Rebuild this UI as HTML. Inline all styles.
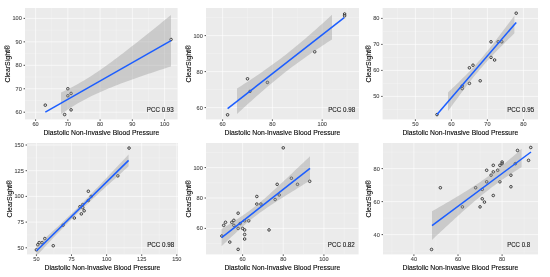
<!DOCTYPE html>
<html><head><meta charset="utf-8"><title>Figure</title>
<style>
html,body{margin:0;padding:0;background:#fff;}
body{width:550px;height:277px;overflow:hidden;}
svg{display:block;font-family:"Liberation Sans",sans-serif;}
</style></head><body>
<svg width="550" height="277" viewBox="0 0 550 277">
<rect width="550" height="277" fill="#ffffff"/>
<g>
<clipPath id="c0"><rect x="25" y="8" width="152.6" height="111.4"/></clipPath>
<rect x="25" y="8" width="152.6" height="111.4" fill="#ebebeb"/>
<line x1="51.73" y1="8" x2="51.73" y2="119.4" stroke="#fff" stroke-width="0.4" stroke-opacity="0.55"/>
<line x1="83.97" y1="8" x2="83.97" y2="119.4" stroke="#fff" stroke-width="0.4" stroke-opacity="0.55"/>
<line x1="116.22" y1="8" x2="116.22" y2="119.4" stroke="#fff" stroke-width="0.4" stroke-opacity="0.55"/>
<line x1="148.47" y1="8" x2="148.47" y2="119.4" stroke="#fff" stroke-width="0.4" stroke-opacity="0.55"/>
<line x1="25" y1="100.47" x2="177.6" y2="100.47" stroke="#fff" stroke-width="0.4" stroke-opacity="0.55"/>
<line x1="25" y1="77.03" x2="177.6" y2="77.03" stroke="#fff" stroke-width="0.4" stroke-opacity="0.55"/>
<line x1="25" y1="53.58" x2="177.6" y2="53.58" stroke="#fff" stroke-width="0.4" stroke-opacity="0.55"/>
<line x1="25" y1="30.12" x2="177.6" y2="30.12" stroke="#fff" stroke-width="0.4" stroke-opacity="0.55"/>
<line x1="35.6" y1="8" x2="35.6" y2="119.4" stroke="#fff" stroke-width="0.75" stroke-opacity="0.8"/>
<line x1="67.85" y1="8" x2="67.85" y2="119.4" stroke="#fff" stroke-width="0.75" stroke-opacity="0.8"/>
<line x1="100.1" y1="8" x2="100.1" y2="119.4" stroke="#fff" stroke-width="0.75" stroke-opacity="0.8"/>
<line x1="132.35" y1="8" x2="132.35" y2="119.4" stroke="#fff" stroke-width="0.75" stroke-opacity="0.8"/>
<line x1="164.6" y1="8" x2="164.6" y2="119.4" stroke="#fff" stroke-width="0.75" stroke-opacity="0.8"/>
<line x1="25" y1="112.2" x2="177.6" y2="112.2" stroke="#fff" stroke-width="0.75" stroke-opacity="0.8"/>
<line x1="25" y1="88.75" x2="177.6" y2="88.75" stroke="#fff" stroke-width="0.75" stroke-opacity="0.8"/>
<line x1="25" y1="65.3" x2="177.6" y2="65.3" stroke="#fff" stroke-width="0.75" stroke-opacity="0.8"/>
<line x1="25" y1="41.85" x2="177.6" y2="41.85" stroke="#fff" stroke-width="0.75" stroke-opacity="0.8"/>
<line x1="25" y1="18.4" x2="177.6" y2="18.4" stroke="#fff" stroke-width="0.75" stroke-opacity="0.8"/>
<g clip-path="url(#c0)">
<circle cx="45.28" cy="105.16" r="1.3" fill="#d9d9d9" fill-opacity="0.5" stroke="#1f1f1f" stroke-width="0.8"/>
<circle cx="64.62" cy="114.55" r="1.3" fill="#d9d9d9" fill-opacity="0.5" stroke="#1f1f1f" stroke-width="0.8"/>
<circle cx="67.85" cy="88.75" r="1.3" fill="#d9d9d9" fill-opacity="0.5" stroke="#1f1f1f" stroke-width="0.8"/>
<circle cx="67.85" cy="95.78" r="1.3" fill="#d9d9d9" fill-opacity="0.5" stroke="#1f1f1f" stroke-width="0.8"/>
<circle cx="71.08" cy="93.44" r="1.3" fill="#d9d9d9" fill-opacity="0.5" stroke="#1f1f1f" stroke-width="0.8"/>
<circle cx="71.08" cy="109.86" r="1.3" fill="#d9d9d9" fill-opacity="0.5" stroke="#1f1f1f" stroke-width="0.8"/>
<circle cx="171.05" cy="39.5" r="1.3" fill="#d9d9d9" fill-opacity="0.5" stroke="#1f1f1f" stroke-width="0.8"/>
<path d="M61 92.52 L63.82 91.2 L66.64 89.85 L69.46 88.45 L72.28 87 L75.1 85.5 L77.92 83.95 L80.74 82.34 L83.56 80.69 L86.38 78.98 L89.21 77.22 L92.03 75.41 L94.85 73.56 L97.67 71.66 L100.49 69.73 L103.31 67.75 L106.13 65.74 L108.95 63.71 L111.77 61.64 L114.59 59.55 L117.41 57.44 L120.23 55.31 L123.05 53.15 L125.87 50.99 L128.69 48.8 L131.51 46.61 L134.33 44.4 L137.15 42.18 L139.97 39.95 L142.79 37.72 L145.62 35.47 L148.44 33.21 L151.26 30.95 L154.08 28.68 L156.9 26.41 L159.72 24.13 L162.54 21.84 L165.36 19.55 L168.18 17.26 L171 14.96 L171 66.44 L168.18 67.35 L165.36 68.26 L162.54 69.18 L159.72 70.11 L156.9 71.03 L154.08 71.97 L151.26 72.91 L148.44 73.86 L145.62 74.81 L142.79 75.77 L139.97 76.74 L137.15 77.72 L134.33 78.71 L131.51 79.71 L128.69 80.73 L125.87 81.75 L123.05 82.79 L120.23 83.85 L117.41 84.93 L114.59 86.02 L111.77 87.14 L108.95 88.28 L106.13 89.46 L103.31 90.66 L100.49 91.89 L97.67 93.16 L94.85 94.47 L92.03 95.83 L89.21 97.23 L86.38 98.68 L83.56 100.18 L80.74 101.73 L77.92 103.34 L75.1 105 L72.28 106.71 L69.46 108.47 L66.64 110.27 L63.82 112.13 L61 114.02Z" fill="#999999" fill-opacity="0.4"/>
<line x1="45.3" y1="112.2" x2="171" y2="40.7" stroke="#1c5eff" stroke-width="1.55"/>
</g>
<line x1="35.6" y1="119.4" x2="35.6" y2="120.9" stroke="#333" stroke-width="0.9"/>
<text x="35.6" y="126.3" font-size="5.6" fill="#4d4d4d" stroke="#4d4d4d" stroke-width="0.1" text-anchor="middle">60</text>
<line x1="67.85" y1="119.4" x2="67.85" y2="120.9" stroke="#333" stroke-width="0.9"/>
<text x="67.85" y="126.3" font-size="5.6" fill="#4d4d4d" stroke="#4d4d4d" stroke-width="0.1" text-anchor="middle">70</text>
<line x1="100.1" y1="119.4" x2="100.1" y2="120.9" stroke="#333" stroke-width="0.9"/>
<text x="100.1" y="126.3" font-size="5.6" fill="#4d4d4d" stroke="#4d4d4d" stroke-width="0.1" text-anchor="middle">80</text>
<line x1="132.35" y1="119.4" x2="132.35" y2="120.9" stroke="#333" stroke-width="0.9"/>
<text x="132.35" y="126.3" font-size="5.6" fill="#4d4d4d" stroke="#4d4d4d" stroke-width="0.1" text-anchor="middle">90</text>
<line x1="164.6" y1="119.4" x2="164.6" y2="120.9" stroke="#333" stroke-width="0.9"/>
<text x="164.6" y="126.3" font-size="5.6" fill="#4d4d4d" stroke="#4d4d4d" stroke-width="0.1" text-anchor="middle">100</text>
<line x1="23.6" y1="112.2" x2="25" y2="112.2" stroke="#333" stroke-width="0.9"/>
<text x="21.8" y="114.1" font-size="5.6" fill="#4d4d4d" stroke="#4d4d4d" stroke-width="0.1" text-anchor="end">60</text>
<line x1="23.6" y1="88.75" x2="25" y2="88.75" stroke="#333" stroke-width="0.9"/>
<text x="21.8" y="90.65" font-size="5.6" fill="#4d4d4d" stroke="#4d4d4d" stroke-width="0.1" text-anchor="end">70</text>
<line x1="23.6" y1="65.3" x2="25" y2="65.3" stroke="#333" stroke-width="0.9"/>
<text x="21.8" y="67.2" font-size="5.6" fill="#4d4d4d" stroke="#4d4d4d" stroke-width="0.1" text-anchor="end">80</text>
<line x1="23.6" y1="41.85" x2="25" y2="41.85" stroke="#333" stroke-width="0.9"/>
<text x="21.8" y="43.75" font-size="5.6" fill="#4d4d4d" stroke="#4d4d4d" stroke-width="0.1" text-anchor="end">90</text>
<line x1="23.6" y1="18.4" x2="25" y2="18.4" stroke="#333" stroke-width="0.9"/>
<text x="21.8" y="20.3" font-size="5.6" fill="#4d4d4d" stroke="#4d4d4d" stroke-width="0.1" text-anchor="end">100</text>
<text x="101.3" y="134.5" font-size="7.3" fill="#000" stroke="#000" stroke-width="0.1" text-anchor="middle" textLength="115.8" lengthAdjust="spacingAndGlyphs">Diastolic Non-Invasive Blood Pressure</text>
<text transform="translate(10 63.7) rotate(-90)" font-size="7.3" fill="#000" stroke="#000" stroke-width="0.1" text-anchor="middle" textLength="37.6" lengthAdjust="spacingAndGlyphs">ClearSight®</text>
<text x="146.8" y="111.8" font-size="7" fill="#1a1a1a" stroke="#1a1a1a" stroke-width="0.12" text-anchor="start" textLength="27" lengthAdjust="spacingAndGlyphs">PCC 0.93</text>
</g>
<g>
<clipPath id="c1"><rect x="206" y="8" width="153" height="111.4"/></clipPath>
<rect x="206" y="8" width="153" height="111.4" fill="#ebebeb"/>
<line x1="247.5" y1="8" x2="247.5" y2="119.4" stroke="#fff" stroke-width="0.4" stroke-opacity="0.55"/>
<line x1="297.3" y1="8" x2="297.3" y2="119.4" stroke="#fff" stroke-width="0.4" stroke-opacity="0.55"/>
<line x1="347.1" y1="8" x2="347.1" y2="119.4" stroke="#fff" stroke-width="0.4" stroke-opacity="0.55"/>
<line x1="206" y1="89.6" x2="359" y2="89.6" stroke="#fff" stroke-width="0.4" stroke-opacity="0.55"/>
<line x1="206" y1="53.6" x2="359" y2="53.6" stroke="#fff" stroke-width="0.4" stroke-opacity="0.55"/>
<line x1="206" y1="17.6" x2="359" y2="17.6" stroke="#fff" stroke-width="0.4" stroke-opacity="0.55"/>
<line x1="222.6" y1="8" x2="222.6" y2="119.4" stroke="#fff" stroke-width="0.75" stroke-opacity="0.8"/>
<line x1="272.4" y1="8" x2="272.4" y2="119.4" stroke="#fff" stroke-width="0.75" stroke-opacity="0.8"/>
<line x1="322.2" y1="8" x2="322.2" y2="119.4" stroke="#fff" stroke-width="0.75" stroke-opacity="0.8"/>
<line x1="206" y1="107.6" x2="359" y2="107.6" stroke="#fff" stroke-width="0.75" stroke-opacity="0.8"/>
<line x1="206" y1="71.6" x2="359" y2="71.6" stroke="#fff" stroke-width="0.75" stroke-opacity="0.8"/>
<line x1="206" y1="35.6" x2="359" y2="35.6" stroke="#fff" stroke-width="0.75" stroke-opacity="0.8"/>
<g clip-path="url(#c1)">
<circle cx="227.58" cy="114.8" r="1.3" fill="#d9d9d9" fill-opacity="0.5" stroke="#1f1f1f" stroke-width="0.8"/>
<circle cx="247.5" cy="78.8" r="1.3" fill="#d9d9d9" fill-opacity="0.5" stroke="#1f1f1f" stroke-width="0.8"/>
<circle cx="249.99" cy="91.4" r="1.3" fill="#d9d9d9" fill-opacity="0.5" stroke="#1f1f1f" stroke-width="0.8"/>
<circle cx="267.42" cy="82.4" r="1.3" fill="#d9d9d9" fill-opacity="0.5" stroke="#1f1f1f" stroke-width="0.8"/>
<circle cx="314.73" cy="51.8" r="1.3" fill="#d9d9d9" fill-opacity="0.5" stroke="#1f1f1f" stroke-width="0.8"/>
<circle cx="344.61" cy="14" r="1.3" fill="#d9d9d9" fill-opacity="0.5" stroke="#1f1f1f" stroke-width="0.8"/>
<circle cx="344.61" cy="15.8" r="1.3" fill="#d9d9d9" fill-opacity="0.5" stroke="#1f1f1f" stroke-width="0.8"/>
<path d="M237 88.52 L239.44 86.97 L241.87 85.4 L244.31 83.83 L246.74 82.24 L249.18 80.65 L251.62 79.04 L254.05 77.42 L256.49 75.78 L258.92 74.13 L261.36 72.46 L263.79 70.77 L266.23 69.07 L268.67 67.34 L271.1 65.6 L273.54 63.83 L275.97 62.04 L278.41 60.22 L280.85 58.38 L283.28 56.52 L285.72 54.63 L288.15 52.71 L290.59 50.77 L293.03 48.81 L295.46 46.82 L297.9 44.81 L300.33 42.78 L302.77 40.72 L305.21 38.65 L307.64 36.56 L310.08 34.45 L312.51 32.32 L314.95 30.17 L317.38 28.02 L319.82 25.85 L322.26 23.66 L324.69 21.47 L327.13 19.27 L329.56 17.05 L332 14.83 L332 39.41 L329.56 40.99 L327.13 42.58 L324.69 44.18 L322.26 45.79 L319.82 47.41 L317.38 49.04 L314.95 50.68 L312.51 52.34 L310.08 54.02 L307.64 55.71 L305.21 57.42 L302.77 59.14 L300.33 60.89 L297.9 62.66 L295.46 64.45 L293.03 66.27 L290.59 68.11 L288.15 69.97 L285.72 71.86 L283.28 73.77 L280.85 75.71 L278.41 77.67 L275.97 79.66 L273.54 81.67 L271.1 83.7 L268.67 85.76 L266.23 87.83 L263.79 89.93 L261.36 92.05 L258.92 94.18 L256.49 96.33 L254.05 98.5 L251.62 100.68 L249.18 102.87 L246.74 105.07 L244.31 107.29 L241.87 109.52 L239.44 111.76 L237 114Z" fill="#999999" fill-opacity="0.4"/>
<line x1="227.6" y1="108.6" x2="344.2" y2="17.6" stroke="#1c5eff" stroke-width="1.55"/>
</g>
<line x1="222.6" y1="119.4" x2="222.6" y2="120.9" stroke="#333" stroke-width="0.9"/>
<text x="222.6" y="126.3" font-size="5.6" fill="#4d4d4d" stroke="#4d4d4d" stroke-width="0.1" text-anchor="middle">60</text>
<line x1="272.4" y1="119.4" x2="272.4" y2="120.9" stroke="#333" stroke-width="0.9"/>
<text x="272.4" y="126.3" font-size="5.6" fill="#4d4d4d" stroke="#4d4d4d" stroke-width="0.1" text-anchor="middle">80</text>
<line x1="322.2" y1="119.4" x2="322.2" y2="120.9" stroke="#333" stroke-width="0.9"/>
<text x="322.2" y="126.3" font-size="5.6" fill="#4d4d4d" stroke="#4d4d4d" stroke-width="0.1" text-anchor="middle">100</text>
<line x1="204.6" y1="107.6" x2="206" y2="107.6" stroke="#333" stroke-width="0.9"/>
<text x="202.8" y="109.5" font-size="5.6" fill="#4d4d4d" stroke="#4d4d4d" stroke-width="0.1" text-anchor="end">60</text>
<line x1="204.6" y1="71.6" x2="206" y2="71.6" stroke="#333" stroke-width="0.9"/>
<text x="202.8" y="73.5" font-size="5.6" fill="#4d4d4d" stroke="#4d4d4d" stroke-width="0.1" text-anchor="end">80</text>
<line x1="204.6" y1="35.6" x2="206" y2="35.6" stroke="#333" stroke-width="0.9"/>
<text x="202.8" y="37.5" font-size="5.6" fill="#4d4d4d" stroke="#4d4d4d" stroke-width="0.1" text-anchor="end">100</text>
<text x="282.5" y="134.5" font-size="7.3" fill="#000" stroke="#000" stroke-width="0.1" text-anchor="middle" textLength="115.8" lengthAdjust="spacingAndGlyphs">Diastolic Non-Invasive Blood Pressure</text>
<text transform="translate(191 63.7) rotate(-90)" font-size="7.3" fill="#000" stroke="#000" stroke-width="0.1" text-anchor="middle" textLength="37.6" lengthAdjust="spacingAndGlyphs">ClearSight®</text>
<text x="328.2" y="111.8" font-size="7" fill="#1a1a1a" stroke="#1a1a1a" stroke-width="0.12" text-anchor="start" textLength="27" lengthAdjust="spacingAndGlyphs">PCC 0.98</text>
</g>
<g>
<clipPath id="c2"><rect x="382.6" y="8" width="155.4" height="111.4"/></clipPath>
<rect x="382.6" y="8" width="155.4" height="111.4" fill="#ebebeb"/>
<line x1="397.4" y1="8" x2="397.4" y2="119.4" stroke="#fff" stroke-width="0.4" stroke-opacity="0.55"/>
<line x1="433.4" y1="8" x2="433.4" y2="119.4" stroke="#fff" stroke-width="0.4" stroke-opacity="0.55"/>
<line x1="469.4" y1="8" x2="469.4" y2="119.4" stroke="#fff" stroke-width="0.4" stroke-opacity="0.55"/>
<line x1="505.4" y1="8" x2="505.4" y2="119.4" stroke="#fff" stroke-width="0.4" stroke-opacity="0.55"/>
<line x1="382.6" y1="109.4" x2="538" y2="109.4" stroke="#fff" stroke-width="0.4" stroke-opacity="0.55"/>
<line x1="382.6" y1="83.4" x2="538" y2="83.4" stroke="#fff" stroke-width="0.4" stroke-opacity="0.55"/>
<line x1="382.6" y1="57.4" x2="538" y2="57.4" stroke="#fff" stroke-width="0.4" stroke-opacity="0.55"/>
<line x1="382.6" y1="31.4" x2="538" y2="31.4" stroke="#fff" stroke-width="0.4" stroke-opacity="0.55"/>
<line x1="415.4" y1="8" x2="415.4" y2="119.4" stroke="#fff" stroke-width="0.75" stroke-opacity="0.8"/>
<line x1="451.4" y1="8" x2="451.4" y2="119.4" stroke="#fff" stroke-width="0.75" stroke-opacity="0.8"/>
<line x1="487.4" y1="8" x2="487.4" y2="119.4" stroke="#fff" stroke-width="0.75" stroke-opacity="0.8"/>
<line x1="523.4" y1="8" x2="523.4" y2="119.4" stroke="#fff" stroke-width="0.75" stroke-opacity="0.8"/>
<line x1="382.6" y1="96.4" x2="538" y2="96.4" stroke="#fff" stroke-width="0.75" stroke-opacity="0.8"/>
<line x1="382.6" y1="70.4" x2="538" y2="70.4" stroke="#fff" stroke-width="0.75" stroke-opacity="0.8"/>
<line x1="382.6" y1="44.4" x2="538" y2="44.4" stroke="#fff" stroke-width="0.75" stroke-opacity="0.8"/>
<line x1="382.6" y1="18.4" x2="538" y2="18.4" stroke="#fff" stroke-width="0.75" stroke-opacity="0.8"/>
<g clip-path="url(#c2)">
<circle cx="437" cy="114.6" r="1.3" fill="#d9d9d9" fill-opacity="0.5" stroke="#1f1f1f" stroke-width="0.8"/>
<circle cx="462.2" cy="86" r="1.3" fill="#d9d9d9" fill-opacity="0.5" stroke="#1f1f1f" stroke-width="0.8"/>
<circle cx="462.2" cy="88.6" r="1.3" fill="#d9d9d9" fill-opacity="0.5" stroke="#1f1f1f" stroke-width="0.8"/>
<circle cx="469.4" cy="83.4" r="1.3" fill="#d9d9d9" fill-opacity="0.5" stroke="#1f1f1f" stroke-width="0.8"/>
<circle cx="469.4" cy="67.8" r="1.3" fill="#d9d9d9" fill-opacity="0.5" stroke="#1f1f1f" stroke-width="0.8"/>
<circle cx="473" cy="65.2" r="1.3" fill="#d9d9d9" fill-opacity="0.5" stroke="#1f1f1f" stroke-width="0.8"/>
<circle cx="480.2" cy="80.8" r="1.3" fill="#d9d9d9" fill-opacity="0.5" stroke="#1f1f1f" stroke-width="0.8"/>
<circle cx="491" cy="57.4" r="1.3" fill="#d9d9d9" fill-opacity="0.5" stroke="#1f1f1f" stroke-width="0.8"/>
<circle cx="494.6" cy="60" r="1.3" fill="#d9d9d9" fill-opacity="0.5" stroke="#1f1f1f" stroke-width="0.8"/>
<circle cx="491" cy="41.8" r="1.3" fill="#d9d9d9" fill-opacity="0.5" stroke="#1f1f1f" stroke-width="0.8"/>
<circle cx="498.2" cy="41.8" r="1.3" fill="#d9d9d9" fill-opacity="0.5" stroke="#1f1f1f" stroke-width="0.8"/>
<circle cx="501.8" cy="41.8" r="1.3" fill="#d9d9d9" fill-opacity="0.5" stroke="#1f1f1f" stroke-width="0.8"/>
<circle cx="516.2" cy="13.2" r="1.3" fill="#d9d9d9" fill-opacity="0.5" stroke="#1f1f1f" stroke-width="0.8"/>
<path d="M448 92.47 L449.7 90.85 L451.41 89.23 L453.11 87.6 L454.81 85.97 L456.51 84.32 L458.22 82.66 L459.92 81 L461.62 79.31 L463.32 77.62 L465.03 75.9 L466.73 74.17 L468.43 72.42 L470.13 70.65 L471.84 68.85 L473.54 67.02 L475.24 65.17 L476.94 63.28 L478.65 61.36 L480.35 59.41 L482.05 57.42 L483.75 55.4 L485.46 53.35 L487.16 51.28 L488.86 49.17 L490.56 47.03 L492.27 44.88 L493.97 42.7 L495.67 40.51 L497.37 38.3 L499.08 36.08 L500.78 33.84 L502.48 31.6 L504.18 29.34 L505.89 27.08 L507.59 24.81 L509.29 22.54 L510.99 20.26 L512.7 17.98 L514.4 15.69 L514.4 33.3 L512.7 34.98 L510.99 36.66 L509.29 38.34 L507.59 40.04 L505.89 41.73 L504.18 43.43 L502.48 45.14 L500.78 46.86 L499.08 48.59 L497.37 50.33 L495.67 52.09 L493.97 53.86 L492.27 55.64 L490.56 57.45 L488.86 59.28 L487.16 61.14 L485.46 63.02 L483.75 64.94 L482.05 66.88 L480.35 68.86 L478.65 70.88 L476.94 72.92 L475.24 75 L473.54 77.11 L471.84 79.25 L470.13 81.41 L468.43 83.6 L466.73 85.81 L465.03 88.05 L463.32 90.3 L461.62 92.56 L459.92 94.85 L458.22 97.14 L456.51 99.45 L454.81 101.76 L453.11 104.09 L451.41 106.43 L449.7 108.77 L448 111.12Z" fill="#999999" fill-opacity="0.4"/>
<line x1="437" y1="114.6" x2="516.2" y2="22.4" stroke="#1c5eff" stroke-width="1.55"/>
</g>
<line x1="415.4" y1="119.4" x2="415.4" y2="120.9" stroke="#333" stroke-width="0.9"/>
<text x="415.4" y="126.3" font-size="5.6" fill="#4d4d4d" stroke="#4d4d4d" stroke-width="0.1" text-anchor="middle">50</text>
<line x1="451.4" y1="119.4" x2="451.4" y2="120.9" stroke="#333" stroke-width="0.9"/>
<text x="451.4" y="126.3" font-size="5.6" fill="#4d4d4d" stroke="#4d4d4d" stroke-width="0.1" text-anchor="middle">60</text>
<line x1="487.4" y1="119.4" x2="487.4" y2="120.9" stroke="#333" stroke-width="0.9"/>
<text x="487.4" y="126.3" font-size="5.6" fill="#4d4d4d" stroke="#4d4d4d" stroke-width="0.1" text-anchor="middle">70</text>
<line x1="523.4" y1="119.4" x2="523.4" y2="120.9" stroke="#333" stroke-width="0.9"/>
<text x="523.4" y="126.3" font-size="5.6" fill="#4d4d4d" stroke="#4d4d4d" stroke-width="0.1" text-anchor="middle">80</text>
<line x1="381.2" y1="96.4" x2="382.6" y2="96.4" stroke="#333" stroke-width="0.9"/>
<text x="379.4" y="98.3" font-size="5.6" fill="#4d4d4d" stroke="#4d4d4d" stroke-width="0.1" text-anchor="end">50</text>
<line x1="381.2" y1="70.4" x2="382.6" y2="70.4" stroke="#333" stroke-width="0.9"/>
<text x="379.4" y="72.3" font-size="5.6" fill="#4d4d4d" stroke="#4d4d4d" stroke-width="0.1" text-anchor="end">60</text>
<line x1="381.2" y1="44.4" x2="382.6" y2="44.4" stroke="#333" stroke-width="0.9"/>
<text x="379.4" y="46.3" font-size="5.6" fill="#4d4d4d" stroke="#4d4d4d" stroke-width="0.1" text-anchor="end">70</text>
<line x1="381.2" y1="18.4" x2="382.6" y2="18.4" stroke="#333" stroke-width="0.9"/>
<text x="379.4" y="20.3" font-size="5.6" fill="#4d4d4d" stroke="#4d4d4d" stroke-width="0.1" text-anchor="end">80</text>
<text x="460.3" y="134.5" font-size="7.3" fill="#000" stroke="#000" stroke-width="0.1" text-anchor="middle" textLength="115.8" lengthAdjust="spacingAndGlyphs">Diastolic Non-Invasive Blood Pressure</text>
<text transform="translate(370.7 63.7) rotate(-90)" font-size="7.3" fill="#000" stroke="#000" stroke-width="0.1" text-anchor="middle" textLength="37.6" lengthAdjust="spacingAndGlyphs">ClearSight®</text>
<text x="507.2" y="111.8" font-size="7" fill="#1a1a1a" stroke="#1a1a1a" stroke-width="0.12" text-anchor="start" textLength="27" lengthAdjust="spacingAndGlyphs">PCC 0.95</text>
</g>
<g>
<clipPath id="c3"><rect x="27" y="143" width="151" height="111.4"/></clipPath>
<rect x="27" y="143" width="151" height="111.4" fill="#ebebeb"/>
<line x1="53.95" y1="143" x2="53.95" y2="254.4" stroke="#fff" stroke-width="0.4" stroke-opacity="0.55"/>
<line x1="89.05" y1="143" x2="89.05" y2="254.4" stroke="#fff" stroke-width="0.4" stroke-opacity="0.55"/>
<line x1="124.15" y1="143" x2="124.15" y2="254.4" stroke="#fff" stroke-width="0.4" stroke-opacity="0.55"/>
<line x1="159.25" y1="143" x2="159.25" y2="254.4" stroke="#fff" stroke-width="0.4" stroke-opacity="0.55"/>
<line x1="27" y1="234.95" x2="178" y2="234.95" stroke="#fff" stroke-width="0.4" stroke-opacity="0.55"/>
<line x1="27" y1="209.25" x2="178" y2="209.25" stroke="#fff" stroke-width="0.4" stroke-opacity="0.55"/>
<line x1="27" y1="183.55" x2="178" y2="183.55" stroke="#fff" stroke-width="0.4" stroke-opacity="0.55"/>
<line x1="27" y1="157.85" x2="178" y2="157.85" stroke="#fff" stroke-width="0.4" stroke-opacity="0.55"/>
<line x1="36.4" y1="143" x2="36.4" y2="254.4" stroke="#fff" stroke-width="0.75" stroke-opacity="0.8"/>
<line x1="71.5" y1="143" x2="71.5" y2="254.4" stroke="#fff" stroke-width="0.75" stroke-opacity="0.8"/>
<line x1="106.6" y1="143" x2="106.6" y2="254.4" stroke="#fff" stroke-width="0.75" stroke-opacity="0.8"/>
<line x1="141.7" y1="143" x2="141.7" y2="254.4" stroke="#fff" stroke-width="0.75" stroke-opacity="0.8"/>
<line x1="176.8" y1="143" x2="176.8" y2="254.4" stroke="#fff" stroke-width="0.75" stroke-opacity="0.8"/>
<line x1="27" y1="247.8" x2="178" y2="247.8" stroke="#fff" stroke-width="0.75" stroke-opacity="0.8"/>
<line x1="27" y1="222.1" x2="178" y2="222.1" stroke="#fff" stroke-width="0.75" stroke-opacity="0.8"/>
<line x1="27" y1="196.4" x2="178" y2="196.4" stroke="#fff" stroke-width="0.75" stroke-opacity="0.8"/>
<line x1="27" y1="170.7" x2="178" y2="170.7" stroke="#fff" stroke-width="0.75" stroke-opacity="0.8"/>
<line x1="27" y1="145" x2="178" y2="145" stroke="#fff" stroke-width="0.75" stroke-opacity="0.8"/>
<g clip-path="url(#c3)">
<circle cx="36.4" cy="249.86" r="1.3" fill="#d9d9d9" fill-opacity="0.5" stroke="#1f1f1f" stroke-width="0.8"/>
<circle cx="37.8" cy="244.72" r="1.3" fill="#d9d9d9" fill-opacity="0.5" stroke="#1f1f1f" stroke-width="0.8"/>
<circle cx="39.21" cy="242.66" r="1.3" fill="#d9d9d9" fill-opacity="0.5" stroke="#1f1f1f" stroke-width="0.8"/>
<circle cx="42.02" cy="242.66" r="1.3" fill="#d9d9d9" fill-opacity="0.5" stroke="#1f1f1f" stroke-width="0.8"/>
<circle cx="44.82" cy="238.55" r="1.3" fill="#d9d9d9" fill-opacity="0.5" stroke="#1f1f1f" stroke-width="0.8"/>
<circle cx="53.25" cy="245.74" r="1.3" fill="#d9d9d9" fill-opacity="0.5" stroke="#1f1f1f" stroke-width="0.8"/>
<circle cx="63.08" cy="225.18" r="1.3" fill="#d9d9d9" fill-opacity="0.5" stroke="#1f1f1f" stroke-width="0.8"/>
<circle cx="74.31" cy="217.99" r="1.3" fill="#d9d9d9" fill-opacity="0.5" stroke="#1f1f1f" stroke-width="0.8"/>
<circle cx="79.92" cy="206.68" r="1.3" fill="#d9d9d9" fill-opacity="0.5" stroke="#1f1f1f" stroke-width="0.8"/>
<circle cx="82.73" cy="204.62" r="1.3" fill="#d9d9d9" fill-opacity="0.5" stroke="#1f1f1f" stroke-width="0.8"/>
<circle cx="82.73" cy="207.71" r="1.3" fill="#d9d9d9" fill-opacity="0.5" stroke="#1f1f1f" stroke-width="0.8"/>
<circle cx="84.14" cy="210.79" r="1.3" fill="#d9d9d9" fill-opacity="0.5" stroke="#1f1f1f" stroke-width="0.8"/>
<circle cx="81.33" cy="213.88" r="1.3" fill="#d9d9d9" fill-opacity="0.5" stroke="#1f1f1f" stroke-width="0.8"/>
<circle cx="88.35" cy="200.51" r="1.3" fill="#d9d9d9" fill-opacity="0.5" stroke="#1f1f1f" stroke-width="0.8"/>
<circle cx="91.16" cy="196.4" r="1.3" fill="#d9d9d9" fill-opacity="0.5" stroke="#1f1f1f" stroke-width="0.8"/>
<circle cx="88.35" cy="191.26" r="1.3" fill="#d9d9d9" fill-opacity="0.5" stroke="#1f1f1f" stroke-width="0.8"/>
<circle cx="117.83" cy="175.84" r="1.3" fill="#d9d9d9" fill-opacity="0.5" stroke="#1f1f1f" stroke-width="0.8"/>
<circle cx="129.06" cy="148.08" r="1.3" fill="#d9d9d9" fill-opacity="0.5" stroke="#1f1f1f" stroke-width="0.8"/>
<path d="M36.4 245.76 L38.76 243.68 L41.13 241.59 L43.49 239.49 L45.86 237.38 L48.22 235.26 L50.58 233.13 L52.95 230.99 L55.31 228.84 L57.68 226.67 L60.04 224.49 L62.41 222.29 L64.77 220.07 L67.13 217.83 L69.5 215.56 L71.86 213.28 L74.23 210.97 L76.59 208.64 L78.95 206.29 L81.32 203.91 L83.68 201.52 L86.05 199.11 L88.41 196.69 L90.77 194.25 L93.14 191.8 L95.5 189.34 L97.87 186.88 L100.23 184.4 L102.59 181.92 L104.96 179.44 L107.32 176.95 L109.69 174.46 L112.05 171.96 L114.42 169.47 L116.78 166.97 L119.14 164.47 L121.51 161.97 L123.87 159.47 L126.24 156.97 L128.6 154.47 L128.6 166.33 L126.24 168.47 L123.87 170.61 L121.51 172.75 L119.14 174.89 L116.78 177.04 L114.42 179.18 L112.05 181.32 L109.69 183.47 L107.32 185.62 L104.96 187.77 L102.59 189.93 L100.23 192.09 L97.87 194.25 L95.5 196.43 L93.14 198.61 L90.77 200.8 L88.41 203 L86.05 205.22 L83.68 207.45 L81.32 209.7 L78.95 211.97 L76.59 214.26 L74.23 216.57 L71.86 218.9 L69.5 221.26 L67.13 223.64 L64.77 226.04 L62.41 228.46 L60.04 230.9 L57.68 233.35 L55.31 235.83 L52.95 238.31 L50.58 240.82 L48.22 243.33 L45.86 245.85 L43.49 248.38 L41.13 250.92 L38.76 253.47 L36.4 256.03Z" fill="#999999" fill-opacity="0.4"/>
<line x1="36.6" y1="250.7" x2="128.6" y2="160.4" stroke="#1c5eff" stroke-width="1.55"/>
</g>
<line x1="36.4" y1="254.4" x2="36.4" y2="255.9" stroke="#333" stroke-width="0.9"/>
<text x="36.4" y="261.3" font-size="5.6" fill="#4d4d4d" stroke="#4d4d4d" stroke-width="0.1" text-anchor="middle">50</text>
<line x1="71.5" y1="254.4" x2="71.5" y2="255.9" stroke="#333" stroke-width="0.9"/>
<text x="71.5" y="261.3" font-size="5.6" fill="#4d4d4d" stroke="#4d4d4d" stroke-width="0.1" text-anchor="middle">75</text>
<line x1="106.6" y1="254.4" x2="106.6" y2="255.9" stroke="#333" stroke-width="0.9"/>
<text x="106.6" y="261.3" font-size="5.6" fill="#4d4d4d" stroke="#4d4d4d" stroke-width="0.1" text-anchor="middle">100</text>
<line x1="141.7" y1="254.4" x2="141.7" y2="255.9" stroke="#333" stroke-width="0.9"/>
<text x="141.7" y="261.3" font-size="5.6" fill="#4d4d4d" stroke="#4d4d4d" stroke-width="0.1" text-anchor="middle">125</text>
<line x1="176.8" y1="254.4" x2="176.8" y2="255.9" stroke="#333" stroke-width="0.9"/>
<text x="176.8" y="261.3" font-size="5.6" fill="#4d4d4d" stroke="#4d4d4d" stroke-width="0.1" text-anchor="middle">150</text>
<line x1="25.6" y1="247.8" x2="27" y2="247.8" stroke="#333" stroke-width="0.9"/>
<text x="23.8" y="249.7" font-size="5.6" fill="#4d4d4d" stroke="#4d4d4d" stroke-width="0.1" text-anchor="end">50</text>
<line x1="25.6" y1="222.1" x2="27" y2="222.1" stroke="#333" stroke-width="0.9"/>
<text x="23.8" y="224" font-size="5.6" fill="#4d4d4d" stroke="#4d4d4d" stroke-width="0.1" text-anchor="end">75</text>
<line x1="25.6" y1="196.4" x2="27" y2="196.4" stroke="#333" stroke-width="0.9"/>
<text x="23.8" y="198.3" font-size="5.6" fill="#4d4d4d" stroke="#4d4d4d" stroke-width="0.1" text-anchor="end">100</text>
<line x1="25.6" y1="170.7" x2="27" y2="170.7" stroke="#333" stroke-width="0.9"/>
<text x="23.8" y="172.6" font-size="5.6" fill="#4d4d4d" stroke="#4d4d4d" stroke-width="0.1" text-anchor="end">125</text>
<line x1="25.6" y1="145" x2="27" y2="145" stroke="#333" stroke-width="0.9"/>
<text x="23.8" y="146.9" font-size="5.6" fill="#4d4d4d" stroke="#4d4d4d" stroke-width="0.1" text-anchor="end">150</text>
<text x="102.5" y="269.5" font-size="7.3" fill="#000" stroke="#000" stroke-width="0.1" text-anchor="middle" textLength="115.8" lengthAdjust="spacingAndGlyphs">Diastolic Non-Invasive Blood Pressure</text>
<text transform="translate(12 198.7) rotate(-90)" font-size="7.3" fill="#000" stroke="#000" stroke-width="0.1" text-anchor="middle" textLength="37.6" lengthAdjust="spacingAndGlyphs">ClearSight®</text>
<text x="147.2" y="246.8" font-size="7" fill="#1a1a1a" stroke="#1a1a1a" stroke-width="0.12" text-anchor="start" textLength="27" lengthAdjust="spacingAndGlyphs">PCC 0.98</text>
</g>
<g>
<clipPath id="c4"><rect x="206" y="143" width="152.6" height="111.4"/></clipPath>
<rect x="206" y="143" width="152.6" height="111.4" fill="#ebebeb"/>
<line x1="222.27" y1="143" x2="222.27" y2="254.4" stroke="#fff" stroke-width="0.4" stroke-opacity="0.55"/>
<line x1="262.93" y1="143" x2="262.93" y2="254.4" stroke="#fff" stroke-width="0.4" stroke-opacity="0.55"/>
<line x1="303.59" y1="143" x2="303.59" y2="254.4" stroke="#fff" stroke-width="0.4" stroke-opacity="0.55"/>
<line x1="344.25" y1="143" x2="344.25" y2="254.4" stroke="#fff" stroke-width="0.4" stroke-opacity="0.55"/>
<line x1="206" y1="243.6" x2="358.6" y2="243.6" stroke="#fff" stroke-width="0.4" stroke-opacity="0.55"/>
<line x1="206" y1="213.2" x2="358.6" y2="213.2" stroke="#fff" stroke-width="0.4" stroke-opacity="0.55"/>
<line x1="206" y1="182.8" x2="358.6" y2="182.8" stroke="#fff" stroke-width="0.4" stroke-opacity="0.55"/>
<line x1="206" y1="152.4" x2="358.6" y2="152.4" stroke="#fff" stroke-width="0.4" stroke-opacity="0.55"/>
<line x1="242.6" y1="143" x2="242.6" y2="254.4" stroke="#fff" stroke-width="0.75" stroke-opacity="0.8"/>
<line x1="283.26" y1="143" x2="283.26" y2="254.4" stroke="#fff" stroke-width="0.75" stroke-opacity="0.8"/>
<line x1="323.92" y1="143" x2="323.92" y2="254.4" stroke="#fff" stroke-width="0.75" stroke-opacity="0.8"/>
<line x1="206" y1="228.4" x2="358.6" y2="228.4" stroke="#fff" stroke-width="0.75" stroke-opacity="0.8"/>
<line x1="206" y1="198" x2="358.6" y2="198" stroke="#fff" stroke-width="0.75" stroke-opacity="0.8"/>
<line x1="206" y1="167.6" x2="358.6" y2="167.6" stroke="#fff" stroke-width="0.75" stroke-opacity="0.8"/>
<g clip-path="url(#c4)">
<circle cx="221.86" cy="236" r="1.3" fill="#d9d9d9" fill-opacity="0.5" stroke="#1f1f1f" stroke-width="0.8"/>
<circle cx="223.69" cy="225.36" r="1.3" fill="#d9d9d9" fill-opacity="0.5" stroke="#1f1f1f" stroke-width="0.8"/>
<circle cx="225.52" cy="222.32" r="1.3" fill="#d9d9d9" fill-opacity="0.5" stroke="#1f1f1f" stroke-width="0.8"/>
<circle cx="229.79" cy="242.08" r="1.3" fill="#d9d9d9" fill-opacity="0.5" stroke="#1f1f1f" stroke-width="0.8"/>
<circle cx="231.83" cy="222.32" r="1.3" fill="#d9d9d9" fill-opacity="0.5" stroke="#1f1f1f" stroke-width="0.8"/>
<circle cx="233.86" cy="220.34" r="1.3" fill="#d9d9d9" fill-opacity="0.5" stroke="#1f1f1f" stroke-width="0.8"/>
<circle cx="233.86" cy="225.36" r="1.3" fill="#d9d9d9" fill-opacity="0.5" stroke="#1f1f1f" stroke-width="0.8"/>
<circle cx="238.13" cy="213.2" r="1.3" fill="#d9d9d9" fill-opacity="0.5" stroke="#1f1f1f" stroke-width="0.8"/>
<circle cx="238.13" cy="228.4" r="1.3" fill="#d9d9d9" fill-opacity="0.5" stroke="#1f1f1f" stroke-width="0.8"/>
<circle cx="238.13" cy="249.38" r="1.3" fill="#d9d9d9" fill-opacity="0.5" stroke="#1f1f1f" stroke-width="0.8"/>
<circle cx="240.16" cy="223.54" r="1.3" fill="#d9d9d9" fill-opacity="0.5" stroke="#1f1f1f" stroke-width="0.8"/>
<circle cx="242.6" cy="228.4" r="1.3" fill="#d9d9d9" fill-opacity="0.5" stroke="#1f1f1f" stroke-width="0.8"/>
<circle cx="244.63" cy="220.8" r="1.3" fill="#d9d9d9" fill-opacity="0.5" stroke="#1f1f1f" stroke-width="0.8"/>
<circle cx="244.63" cy="229.92" r="1.3" fill="#d9d9d9" fill-opacity="0.5" stroke="#1f1f1f" stroke-width="0.8"/>
<circle cx="244.63" cy="234.48" r="1.3" fill="#d9d9d9" fill-opacity="0.5" stroke="#1f1f1f" stroke-width="0.8"/>
<circle cx="244.63" cy="239.04" r="1.3" fill="#d9d9d9" fill-opacity="0.5" stroke="#1f1f1f" stroke-width="0.8"/>
<circle cx="248.7" cy="220.8" r="1.3" fill="#d9d9d9" fill-opacity="0.5" stroke="#1f1f1f" stroke-width="0.8"/>
<circle cx="256.83" cy="204.08" r="1.3" fill="#d9d9d9" fill-opacity="0.5" stroke="#1f1f1f" stroke-width="0.8"/>
<circle cx="260.9" cy="204.08" r="1.3" fill="#d9d9d9" fill-opacity="0.5" stroke="#1f1f1f" stroke-width="0.8"/>
<circle cx="269.03" cy="229.92" r="1.3" fill="#d9d9d9" fill-opacity="0.5" stroke="#1f1f1f" stroke-width="0.8"/>
<circle cx="256.83" cy="196.48" r="1.3" fill="#d9d9d9" fill-opacity="0.5" stroke="#1f1f1f" stroke-width="0.8"/>
<circle cx="275.13" cy="199.52" r="1.3" fill="#d9d9d9" fill-opacity="0.5" stroke="#1f1f1f" stroke-width="0.8"/>
<circle cx="279.19" cy="194.96" r="1.3" fill="#d9d9d9" fill-opacity="0.5" stroke="#1f1f1f" stroke-width="0.8"/>
<circle cx="277.16" cy="184.32" r="1.3" fill="#d9d9d9" fill-opacity="0.5" stroke="#1f1f1f" stroke-width="0.8"/>
<circle cx="291.39" cy="178.24" r="1.3" fill="#d9d9d9" fill-opacity="0.5" stroke="#1f1f1f" stroke-width="0.8"/>
<circle cx="297.49" cy="184.32" r="1.3" fill="#d9d9d9" fill-opacity="0.5" stroke="#1f1f1f" stroke-width="0.8"/>
<circle cx="309.69" cy="181.28" r="1.3" fill="#d9d9d9" fill-opacity="0.5" stroke="#1f1f1f" stroke-width="0.8"/>
<circle cx="283.26" cy="147.84" r="1.3" fill="#d9d9d9" fill-opacity="0.5" stroke="#1f1f1f" stroke-width="0.8"/>
<path d="M221.6 228.88 L223.87 227.53 L226.13 226.17 L228.4 224.79 L230.67 223.39 L232.93 221.97 L235.2 220.53 L237.47 219.06 L239.73 217.57 L242 216.04 L244.27 214.47 L246.53 212.86 L248.8 211.21 L251.07 209.51 L253.33 207.77 L255.6 205.98 L257.87 204.14 L260.13 202.26 L262.4 200.34 L264.67 198.39 L266.93 196.4 L269.2 194.39 L271.47 192.35 L273.73 190.29 L276 188.21 L278.27 186.12 L280.53 184.02 L282.8 181.91 L285.07 179.79 L287.33 177.66 L289.6 175.53 L291.87 173.39 L294.13 171.25 L296.4 169.11 L298.67 166.97 L300.93 164.82 L303.2 162.67 L305.47 160.52 L307.73 158.38 L310 156.23 L310 180.57 L307.73 181.97 L305.47 183.37 L303.2 184.77 L300.93 186.18 L298.67 187.58 L296.4 188.98 L294.13 190.39 L291.87 191.8 L289.6 193.21 L287.33 194.62 L285.07 196.05 L282.8 197.48 L280.53 198.91 L278.27 200.36 L276 201.82 L273.73 203.29 L271.47 204.78 L269.2 206.29 L266.93 207.83 L264.67 209.39 L262.4 210.98 L260.13 212.61 L257.87 214.28 L255.6 215.99 L253.33 217.75 L251.07 219.55 L248.8 221.41 L246.53 223.3 L244.27 225.24 L242 227.23 L239.73 229.24 L237.47 231.29 L235.2 233.38 L232.93 235.48 L230.67 237.61 L228.4 239.76 L226.13 241.93 L223.87 244.12 L221.6 246.32Z" fill="#999999" fill-opacity="0.4"/>
<line x1="221.6" y1="237.6" x2="310" y2="168.4" stroke="#1c5eff" stroke-width="1.55"/>
</g>
<line x1="242.6" y1="254.4" x2="242.6" y2="255.9" stroke="#333" stroke-width="0.9"/>
<text x="242.6" y="261.3" font-size="5.6" fill="#4d4d4d" stroke="#4d4d4d" stroke-width="0.1" text-anchor="middle">60</text>
<line x1="283.26" y1="254.4" x2="283.26" y2="255.9" stroke="#333" stroke-width="0.9"/>
<text x="283.26" y="261.3" font-size="5.6" fill="#4d4d4d" stroke="#4d4d4d" stroke-width="0.1" text-anchor="middle">80</text>
<line x1="323.92" y1="254.4" x2="323.92" y2="255.9" stroke="#333" stroke-width="0.9"/>
<text x="323.92" y="261.3" font-size="5.6" fill="#4d4d4d" stroke="#4d4d4d" stroke-width="0.1" text-anchor="middle">100</text>
<line x1="204.6" y1="228.4" x2="206" y2="228.4" stroke="#333" stroke-width="0.9"/>
<text x="202.8" y="230.3" font-size="5.6" fill="#4d4d4d" stroke="#4d4d4d" stroke-width="0.1" text-anchor="end">60</text>
<line x1="204.6" y1="198" x2="206" y2="198" stroke="#333" stroke-width="0.9"/>
<text x="202.8" y="199.9" font-size="5.6" fill="#4d4d4d" stroke="#4d4d4d" stroke-width="0.1" text-anchor="end">80</text>
<line x1="204.6" y1="167.6" x2="206" y2="167.6" stroke="#333" stroke-width="0.9"/>
<text x="202.8" y="169.5" font-size="5.6" fill="#4d4d4d" stroke="#4d4d4d" stroke-width="0.1" text-anchor="end">100</text>
<text x="282.3" y="269.5" font-size="7.3" fill="#000" stroke="#000" stroke-width="0.1" text-anchor="middle" textLength="115.8" lengthAdjust="spacingAndGlyphs">Diastolic Non-Invasive Blood Pressure</text>
<text transform="translate(191 198.7) rotate(-90)" font-size="7.3" fill="#000" stroke="#000" stroke-width="0.1" text-anchor="middle" textLength="37.6" lengthAdjust="spacingAndGlyphs">ClearSight®</text>
<text x="327.8" y="246.8" font-size="7" fill="#1a1a1a" stroke="#1a1a1a" stroke-width="0.12" text-anchor="start" textLength="27" lengthAdjust="spacingAndGlyphs">PCC 0.82</text>
</g>
<g>
<clipPath id="c5"><rect x="383" y="143" width="155" height="111.4"/></clipPath>
<rect x="383" y="143" width="155" height="111.4" fill="#ebebeb"/>
<line x1="391.85" y1="143" x2="391.85" y2="254.4" stroke="#fff" stroke-width="0.4" stroke-opacity="0.55"/>
<line x1="435.95" y1="143" x2="435.95" y2="254.4" stroke="#fff" stroke-width="0.4" stroke-opacity="0.55"/>
<line x1="480.05" y1="143" x2="480.05" y2="254.4" stroke="#fff" stroke-width="0.4" stroke-opacity="0.55"/>
<line x1="524.15" y1="143" x2="524.15" y2="254.4" stroke="#fff" stroke-width="0.4" stroke-opacity="0.55"/>
<line x1="383" y1="251.1" x2="538" y2="251.1" stroke="#fff" stroke-width="0.4" stroke-opacity="0.55"/>
<line x1="383" y1="218.1" x2="538" y2="218.1" stroke="#fff" stroke-width="0.4" stroke-opacity="0.55"/>
<line x1="383" y1="185.1" x2="538" y2="185.1" stroke="#fff" stroke-width="0.4" stroke-opacity="0.55"/>
<line x1="383" y1="152.1" x2="538" y2="152.1" stroke="#fff" stroke-width="0.4" stroke-opacity="0.55"/>
<line x1="413.9" y1="143" x2="413.9" y2="254.4" stroke="#fff" stroke-width="0.75" stroke-opacity="0.8"/>
<line x1="458" y1="143" x2="458" y2="254.4" stroke="#fff" stroke-width="0.75" stroke-opacity="0.8"/>
<line x1="502.1" y1="143" x2="502.1" y2="254.4" stroke="#fff" stroke-width="0.75" stroke-opacity="0.8"/>
<line x1="383" y1="234.6" x2="538" y2="234.6" stroke="#fff" stroke-width="0.75" stroke-opacity="0.8"/>
<line x1="383" y1="201.6" x2="538" y2="201.6" stroke="#fff" stroke-width="0.75" stroke-opacity="0.8"/>
<line x1="383" y1="168.6" x2="538" y2="168.6" stroke="#fff" stroke-width="0.75" stroke-opacity="0.8"/>
<g clip-path="url(#c5)">
<circle cx="431.54" cy="249.45" r="1.3" fill="#d9d9d9" fill-opacity="0.5" stroke="#1f1f1f" stroke-width="0.8"/>
<circle cx="440.36" cy="187.74" r="1.3" fill="#d9d9d9" fill-opacity="0.5" stroke="#1f1f1f" stroke-width="0.8"/>
<circle cx="462.41" cy="206.88" r="1.3" fill="#d9d9d9" fill-opacity="0.5" stroke="#1f1f1f" stroke-width="0.8"/>
<circle cx="475.64" cy="187.74" r="1.3" fill="#d9d9d9" fill-opacity="0.5" stroke="#1f1f1f" stroke-width="0.8"/>
<circle cx="480.05" cy="206.88" r="1.3" fill="#d9d9d9" fill-opacity="0.5" stroke="#1f1f1f" stroke-width="0.8"/>
<circle cx="482.25" cy="189.39" r="1.3" fill="#d9d9d9" fill-opacity="0.5" stroke="#1f1f1f" stroke-width="0.8"/>
<circle cx="482.25" cy="198.79" r="1.3" fill="#d9d9d9" fill-opacity="0.5" stroke="#1f1f1f" stroke-width="0.8"/>
<circle cx="484.46" cy="202.09" r="1.3" fill="#d9d9d9" fill-opacity="0.5" stroke="#1f1f1f" stroke-width="0.8"/>
<circle cx="486.66" cy="181.8" r="1.3" fill="#d9d9d9" fill-opacity="0.5" stroke="#1f1f1f" stroke-width="0.8"/>
<circle cx="486.66" cy="170.25" r="1.3" fill="#d9d9d9" fill-opacity="0.5" stroke="#1f1f1f" stroke-width="0.8"/>
<circle cx="491.07" cy="175.2" r="1.3" fill="#d9d9d9" fill-opacity="0.5" stroke="#1f1f1f" stroke-width="0.8"/>
<circle cx="493.28" cy="195.49" r="1.3" fill="#d9d9d9" fill-opacity="0.5" stroke="#1f1f1f" stroke-width="0.8"/>
<circle cx="493.28" cy="171.9" r="1.3" fill="#d9d9d9" fill-opacity="0.5" stroke="#1f1f1f" stroke-width="0.8"/>
<circle cx="493.28" cy="165.3" r="1.3" fill="#d9d9d9" fill-opacity="0.5" stroke="#1f1f1f" stroke-width="0.8"/>
<circle cx="497.69" cy="170.25" r="1.3" fill="#d9d9d9" fill-opacity="0.5" stroke="#1f1f1f" stroke-width="0.8"/>
<circle cx="499.89" cy="181.8" r="1.3" fill="#d9d9d9" fill-opacity="0.5" stroke="#1f1f1f" stroke-width="0.8"/>
<circle cx="499.89" cy="165.3" r="1.3" fill="#d9d9d9" fill-opacity="0.5" stroke="#1f1f1f" stroke-width="0.8"/>
<circle cx="502.1" cy="163.65" r="1.3" fill="#d9d9d9" fill-opacity="0.5" stroke="#1f1f1f" stroke-width="0.8"/>
<circle cx="502.1" cy="162" r="1.3" fill="#d9d9d9" fill-opacity="0.5" stroke="#1f1f1f" stroke-width="0.8"/>
<circle cx="510.92" cy="186.75" r="1.3" fill="#d9d9d9" fill-opacity="0.5" stroke="#1f1f1f" stroke-width="0.8"/>
<circle cx="510.92" cy="175.2" r="1.3" fill="#d9d9d9" fill-opacity="0.5" stroke="#1f1f1f" stroke-width="0.8"/>
<circle cx="515.33" cy="163.65" r="1.3" fill="#d9d9d9" fill-opacity="0.5" stroke="#1f1f1f" stroke-width="0.8"/>
<circle cx="517.53" cy="150.45" r="1.3" fill="#d9d9d9" fill-opacity="0.5" stroke="#1f1f1f" stroke-width="0.8"/>
<circle cx="528.56" cy="160.35" r="1.3" fill="#d9d9d9" fill-opacity="0.5" stroke="#1f1f1f" stroke-width="0.8"/>
<circle cx="530.76" cy="147.48" r="1.3" fill="#d9d9d9" fill-opacity="0.5" stroke="#1f1f1f" stroke-width="0.8"/>
<path d="M432 211.3 L434.3 209.99 L436.59 208.67 L438.89 207.35 L441.19 206.03 L443.49 204.7 L445.78 203.36 L448.08 202.02 L450.38 200.66 L452.68 199.3 L454.97 197.94 L457.27 196.56 L459.57 195.17 L461.87 193.77 L464.16 192.35 L466.46 190.92 L468.76 189.47 L471.06 188.01 L473.35 186.52 L475.65 185.01 L477.95 183.48 L480.25 181.92 L482.54 180.33 L484.84 178.72 L487.14 177.07 L489.44 175.39 L491.73 173.68 L494.03 171.94 L496.33 170.16 L498.63 168.35 L500.92 166.51 L503.22 164.63 L505.52 162.74 L507.82 160.81 L510.11 158.86 L512.41 156.89 L514.71 154.9 L517.01 152.89 L519.3 150.86 L521.6 148.82 L521.6 167.16 L519.3 168.58 L517.01 170.02 L514.71 171.48 L512.41 172.96 L510.11 174.45 L507.82 175.97 L505.52 177.51 L503.22 179.08 L500.92 180.68 L498.63 182.3 L496.33 183.96 L494.03 185.65 L491.73 187.37 L489.44 189.13 L487.14 190.91 L484.84 192.73 L482.54 194.59 L480.25 196.47 L477.95 198.38 L475.65 200.31 L473.35 202.27 L471.06 204.25 L468.76 206.25 L466.46 208.27 L464.16 210.31 L461.87 212.36 L459.57 214.43 L457.27 216.5 L454.97 218.59 L452.68 220.69 L450.38 222.8 L448.08 224.91 L445.78 227.04 L443.49 229.17 L441.19 231.3 L438.89 233.45 L436.59 235.59 L434.3 237.74 L432 239.9Z" fill="#999999" fill-opacity="0.4"/>
<line x1="432" y1="225.6" x2="531" y2="152" stroke="#1c5eff" stroke-width="1.55"/>
</g>
<line x1="413.9" y1="254.4" x2="413.9" y2="255.9" stroke="#333" stroke-width="0.9"/>
<text x="413.9" y="261.3" font-size="5.6" fill="#4d4d4d" stroke="#4d4d4d" stroke-width="0.1" text-anchor="middle">40</text>
<line x1="458" y1="254.4" x2="458" y2="255.9" stroke="#333" stroke-width="0.9"/>
<text x="458" y="261.3" font-size="5.6" fill="#4d4d4d" stroke="#4d4d4d" stroke-width="0.1" text-anchor="middle">60</text>
<line x1="502.1" y1="254.4" x2="502.1" y2="255.9" stroke="#333" stroke-width="0.9"/>
<text x="502.1" y="261.3" font-size="5.6" fill="#4d4d4d" stroke="#4d4d4d" stroke-width="0.1" text-anchor="middle">80</text>
<line x1="381.6" y1="234.6" x2="383" y2="234.6" stroke="#333" stroke-width="0.9"/>
<text x="379.8" y="236.5" font-size="5.6" fill="#4d4d4d" stroke="#4d4d4d" stroke-width="0.1" text-anchor="end">40</text>
<line x1="381.6" y1="201.6" x2="383" y2="201.6" stroke="#333" stroke-width="0.9"/>
<text x="379.8" y="203.5" font-size="5.6" fill="#4d4d4d" stroke="#4d4d4d" stroke-width="0.1" text-anchor="end">60</text>
<line x1="381.6" y1="168.6" x2="383" y2="168.6" stroke="#333" stroke-width="0.9"/>
<text x="379.8" y="170.5" font-size="5.6" fill="#4d4d4d" stroke="#4d4d4d" stroke-width="0.1" text-anchor="end">80</text>
<text x="460.5" y="269.5" font-size="7.3" fill="#000" stroke="#000" stroke-width="0.1" text-anchor="middle" textLength="115.8" lengthAdjust="spacingAndGlyphs">Diastolic Non-Invasive Blood Pressure</text>
<text transform="translate(371.1 198.7) rotate(-90)" font-size="7.3" fill="#000" stroke="#000" stroke-width="0.1" text-anchor="middle" textLength="37.6" lengthAdjust="spacingAndGlyphs">ClearSight®</text>
<text x="507.2" y="246.8" font-size="7" fill="#1a1a1a" stroke="#1a1a1a" stroke-width="0.12" text-anchor="start" textLength="22.9" lengthAdjust="spacingAndGlyphs">PCC 0.8</text>
</g>
</svg>
</body></html>
